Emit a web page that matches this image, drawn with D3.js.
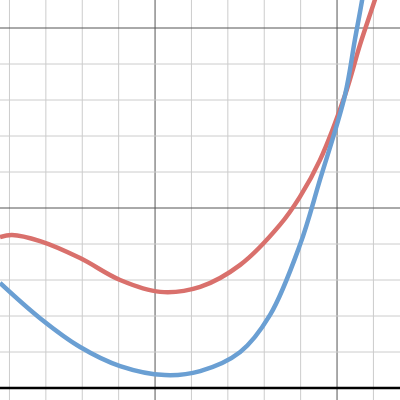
<!DOCTYPE html><html><head><meta charset="utf-8">
<script src="https://cdn.jsdelivr.net/npm/d3@7"></script>
<style>body{margin:0;background:#fff}</style></head><body>
<svg id="c" width="400" height="400"></svg>
<script>
const redX=[-4.26,-3.93,-3.16,-2.06,-0.96,0.14,1.24,2.34,3.43,3.98,4.53,5.22,5.63,6.04,6.2];
const redY=[4.19,4.25,4.08,3.61,3.0,2.67,2.81,3.42,4.53,5.31,6.33,8.14,9.53,10.78,11.3];
const blueX=[-4.26,-3.16,-2.06,-0.96,0.27,1.24,2.34,3.16,3.98,4.53,5.22,5.49,5.69,5.8];
const blueY=[2.92,1.94,1.14,0.61,0.36,0.47,1.0,2.03,3.97,5.78,8.14,9.67,10.78,11.5];
const xTicks=d3.range(-4,7), yTicks=d3.range(0,11);
const svg=d3.select("#c");
const x=d3.scaleLinear().domain([-4.26,6.73]).range([0,400]);
const y=d3.scaleLinear().domain([0,10]).range([388,28]);
svg.selectAll(".vx").data(xTicks).join("line").attr("x1",d=>x(d)).attr("x2",d=>x(d)).attr("y1",0).attr("y2",400)
 .attr("stroke",d=>d%5===0?"#555":"#ccc").attr("stroke-width",1);
svg.selectAll(".hy").data(yTicks).join("line").attr("y1",d=>y(d)).attr("y2",d=>y(d)).attr("x1",0).attr("x2",400)
 .attr("stroke",d=>d===0?"#000":(d%5===0?"#555":"#ccc")).attr("stroke-width",d=>d===0?2.5:1);
const line=d3.line().x(d=>x(d[0])).y(d=>y(d[1])).curve(d3.curveCatmullRom);
svg.append("path").attr("d",line(redX.map((v,i)=>[v,redY[i]]))).attr("fill","none").attr("stroke","#d9706c").attr("stroke-width",4.5);
svg.append("path").attr("d",line(blueX.map((v,i)=>[v,blueY[i]]))).attr("fill","none").attr("stroke","#6a9fd3").attr("stroke-width",4.5);
</script></body></html>
